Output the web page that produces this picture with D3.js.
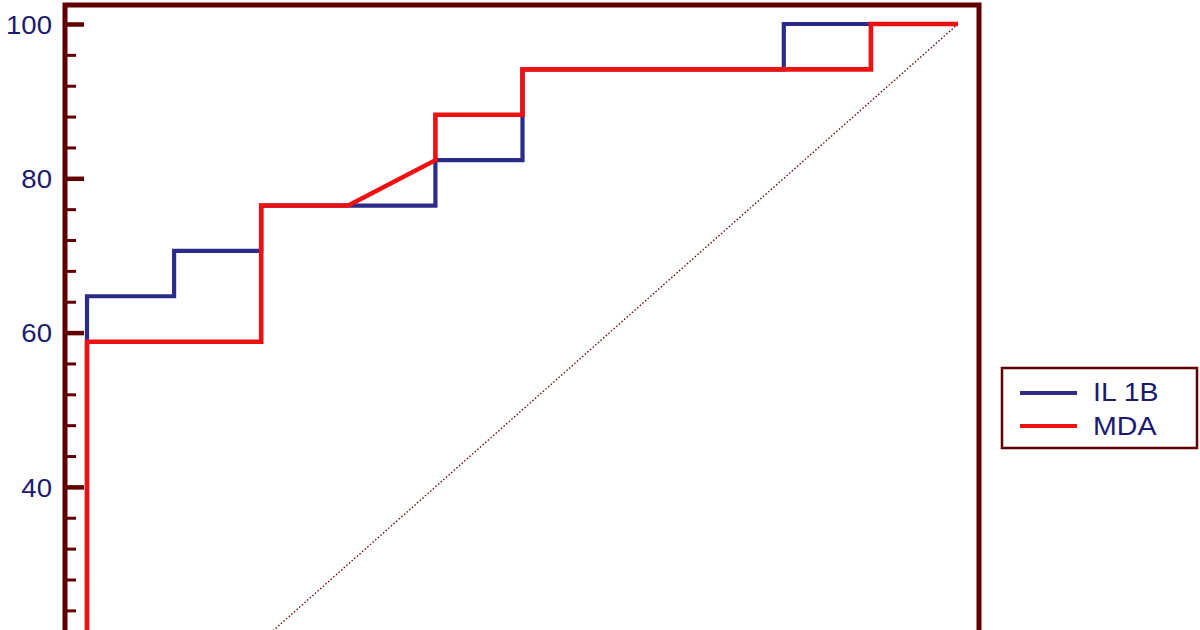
<!DOCTYPE html>
<html><head><meta charset="utf-8">
<script src="https://cdn.jsdelivr.net/npm/d3@7"></script>
<style>html,body{margin:0;padding:0;background:#fff;overflow:hidden}</style>
</head><body>
<svg id="c" width="1200" height="630"></svg>
<script>
// 100 - Specificity (x) and Sensitivity (y) for each ROC curve
const il1bX = [0, 0, 10, 10, 20, 20, 40, 40, 50, 50, 80, 80, 100];
const il1bY = [0, 64.71, 64.71, 70.59, 70.59, 76.47, 76.47, 82.35, 82.35, 94.12, 94.12, 100, 100];
const mdaX  = [0, 0, 20, 20, 30, 40, 40, 50, 50, 90, 90, 100];
const mdaY  = [0, 58.82, 58.82, 76.47, 76.47, 82.35, 88.24, 88.24, 94.12, 94.12, 100, 100];
const seriesNames = ["IL 1B", "MDA"];
const yTicks = [0, 20, 40, 60, 80, 100];
const yMinorTicks = d3.range(0, 101, 4);

const maroon = "#600000", blue = "#2b2b8c", red = "#ee1111", navy = "#1a1a70";
const font = "Liberation Sans, Arial, sans-serif";
const svg = d3.select("#c");
const x = d3.scaleLinear().domain([0, 100]).range([87, 958]);
const y = d3.scaleLinear().domain([0, 100]).range([795.5, 24]);

// frame
svg.append("rect").attr("x", 65).attr("y", 5).attr("width", 914).attr("height", 830)
  .attr("fill", "none").attr("stroke", maroon).attr("stroke-width", 5);

// minor ticks
const minor = d3.axisLeft(y).tickValues(yMinorTicks.filter(v => !yTicks.includes(v)))
  .tickSize(-11).tickSizeOuter(0).tickFormat("");
const gm = svg.append("g").attr("transform", "translate(65,0)").call(minor);
gm.select(".domain").remove();
gm.selectAll(".tick line").attr("stroke", maroon).attr("stroke-width", 3);

// major ticks + labels
const major = d3.axisLeft(y).tickValues(yTicks).tickSize(-19).tickSizeOuter(0).tickPadding(13);
const ga = svg.append("g").attr("transform", "translate(65,0)").call(major);
ga.select(".domain").remove();
ga.selectAll(".tick line").attr("stroke", maroon).attr("stroke-width", 4.5);
ga.selectAll(".tick text").attr("fill", navy).attr("font-family", font)
  .attr("font-size", 26).attr("dy", "0.36em")
  .attr("transform", "translate(-13,0) scale(1.06,1) translate(13,0)");

// diagonal reference
svg.append("line").attr("x1", x(0)).attr("y1", y(0)).attr("x2", x(100)).attr("y2", y(100))
  .attr("stroke", maroon).attr("stroke-width", 1.3).attr("stroke-dasharray", "1.5,2");

const line = d3.line().x(d => x(d[0])).y(d => y(d[1]));
const il1b = il1bX.map((v, i) => [v, il1bY[i]]);
const mda = mdaX.map((v, i) => [v, mdaY[i]]);
svg.append("path").attr("d", line(il1b)).attr("fill", "none").attr("stroke", blue)
  .attr("stroke-width", 4.2).attr("stroke-linejoin", "miter");
svg.append("path").attr("d", line(mda)).attr("fill", "none").attr("stroke", red)
  .attr("stroke-width", 4.6).attr("stroke-linejoin", "miter");

// legend
const lg = svg.append("g");
lg.append("rect").attr("x", 1002).attr("y", 368).attr("width", 195).attr("height", 80)
  .attr("fill", "#fff").attr("stroke", maroon).attr("stroke-width", 2.5);
const colors = [blue, red];
seriesNames.forEach((n, i) => {
  const yy = 393 + i * 33;
  lg.append("line").attr("x1", 1020).attr("x2", 1077).attr("y1", yy).attr("y2", yy)
    .attr("stroke", colors[i]).attr("stroke-width", 4);
  lg.append("text").attr("transform", `translate(1093,${401 + i * 34}) scale(1.12,1)`).text(n)
    .attr("fill", navy).attr("font-family", font).attr("font-size", 25.5);
});
</script>
</body></html>
